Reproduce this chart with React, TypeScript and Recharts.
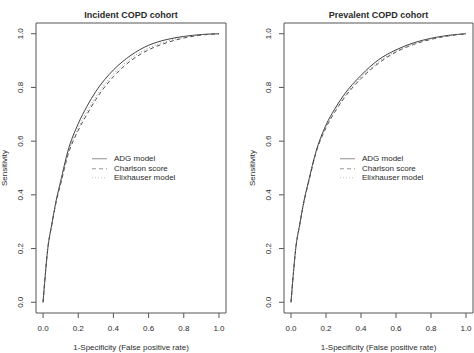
import React from 'react'
import { LineChart, Line, XAxis, YAxis, ReferenceArea, Legend } from 'recharts'

// false positive rate grid shared by every curve
const fprPoints = [0, 0.01, 0.027, 0.05, 0.075, 0.1, 0.14, 0.2, 0.25, 0.3, 0.4, 0.5, 0.6, 0.7, 0.8, 0.9, 1]

// Incident COPD cohort (sensitivity)
const incidentAdg = [0, 0.08, 0.2, 0.29, 0.38, 0.45, 0.56, 0.665, 0.73, 0.785, 0.865, 0.92, 0.957, 0.978, 0.99, 0.997, 1]
const incidentCharlson = [0, 0.08, 0.2, 0.29, 0.375, 0.44, 0.545, 0.64, 0.7, 0.755, 0.84, 0.9, 0.94, 0.966, 0.984, 0.995, 1]
const incidentElix = [0, 0.08, 0.2, 0.29, 0.377, 0.443, 0.55, 0.65, 0.712, 0.765, 0.85, 0.908, 0.947, 0.971, 0.987, 0.996, 1]

// Prevalent COPD cohort (sensitivity)
const prevalentAdg = [0, 0.08, 0.2, 0.29, 0.38, 0.45, 0.555, 0.66, 0.72, 0.77, 0.845, 0.903, 0.94, 0.966, 0.983, 0.994, 1]
const prevalentCharlson = [0, 0.08, 0.2, 0.29, 0.377, 0.445, 0.55, 0.65, 0.708, 0.757, 0.833, 0.89, 0.932, 0.96, 0.979, 0.992, 1]
const prevalentElix = [0, 0.08, 0.2, 0.29, 0.378, 0.447, 0.552, 0.655, 0.713, 0.762, 0.838, 0.895, 0.935, 0.962, 0.981, 0.993, 1]

const axisTicks = [0, 0.2, 0.4, 0.6, 0.8, 1]
const seriesNames = ['ADG model', 'Charlson score', 'Elixhauser model']

const FONT = '"Liberation Sans", Arial, Helvetica, sans-serif'
const TEXT = '#2b2b2b'
const FRAME = '#555'

const seriesStyle = [
  { key: 'adg', stroke: '#2a2a2a', dash: undefined },
  { key: 'charlson', stroke: '#3a3a3a', dash: '4 3' },
  { key: 'elix', stroke: '#8a8a8a', dash: '1 2' },
]

function buildRows(a: number[], c: number[], e: number[]) {
  return fprPoints.map((fpr, i) => ({ fpr, adg: a[i], charlson: c[i], elix: e[i] }))
}

const incidentRows = buildRows(incidentAdg, incidentCharlson, incidentElix)
const prevalentRows = buildRows(prevalentAdg, prevalentCharlson, prevalentElix)

const YTick = (props: any) => {
  const { x, y, payload } = props
  const tx = x - 7.6
  return (
    <text
      x={tx}
      y={y}
      transform={`rotate(-90 ${tx} ${y})`}
      textAnchor="middle"
      fontSize={8}
      fontFamily={FONT}
      fill={TEXT}
    >
      {Number(payload.value).toFixed(1)}
    </text>
  )
}

const LegendBox = (props: any) => {
  const items = props.payload || []
  return (
    <div style={{ fontFamily: FONT, fontSize: 8, color: TEXT }}>
      {items.map((it: any, i: number) => (
        <div key={i} style={{ display: 'flex', alignItems: 'center', height: 9.5 }}>
          <svg width={22} height={9.5}>
            <line
              x1={0}
              x2={15}
              y1={4.75}
              y2={4.75}
              stroke={it.color}
              strokeOpacity={0.65}
              strokeWidth={0.8}
              strokeDasharray={it.payload?.strokeDasharray}
            />
          </svg>
          <span style={{ lineHeight: '9.5px' }}>{it.value}</span>
        </div>
      ))}
    </div>
  )
}

type PanelProps = {
  title: string
  rows: any[]
  left: number
  axisWidth: number
  marginRight: number
}

function Panel({ title, rows, left, axisWidth, marginRight }: PanelProps) {
  const W = 237
  const H = 353
  const top = 23
  const bottom = 40
  const boxLeft = axisWidth
  const boxWidth = W - axisWidth - marginRight
  return (
    <div style={{ position: 'absolute', left, top: 0, width: W, height: H }}>
      <LineChart
        width={W}
        height={H}
        data={rows}
        margin={{ top, right: marginRight, bottom: 0, left: 0 }}
      >
        <XAxis
          dataKey="fpr"
          type="number"
          domain={[-0.04, 1.04]}
          ticks={axisTicks}
          interval={0}
          tickFormatter={(v: number) => v.toFixed(1)}
          axisLine={false}
          tickLine={{ stroke: FRAME }}
          tickSize={5}
          tickMargin={7}
          height={bottom}
          tick={{ fontSize: 8, fontFamily: FONT, fill: TEXT }}
          allowDataOverflow
        />
        <YAxis
          type="number"
          domain={[-0.04, 1.04]}
          ticks={axisTicks}
          interval={0}
          axisLine={false}
          tickLine={{ stroke: FRAME }}
          tickSize={5}
          tickMargin={0}
          width={axisWidth}
          tick={<YTick />}
          allowDataOverflow
        />
        <ReferenceArea
          x1={-0.04}
          x2={1.04}
          y1={-0.04}
          y2={1.04}
          fill="none"
          stroke={FRAME}
          strokeWidth={1}
          ifOverflow="visible"
        />
        {seriesStyle.map((s, i) => (
          <Line
            key={s.key}
            dataKey={s.key}
            name={seriesNames[i]}
            type="monotoneX"
            stroke={s.stroke}
            strokeWidth={0.9}
            strokeDasharray={s.dash}
            dot={false}
            activeDot={false}
            isAnimationActive={false}
          />
        ))}
        <Legend
          layout="vertical"
          align="center"
          verticalAlign="middle"
          content={<LegendBox />}
          wrapperStyle={{ left: boxLeft + 56, top: 154, width: 110, height: 30 }}
        />
      </LineChart>
      <div
        style={{
          position: 'absolute',
          left: boxLeft,
          width: boxWidth,
          top: 10,
          height: 10,
          lineHeight: '10px',
          textAlign: 'center',
          fontFamily: FONT,
          fontWeight: 'bold',
          fontSize: 9,
          color: TEXT,
        }}
      >
        {title}
      </div>
      <div
        style={{
          position: 'absolute',
          left: boxLeft,
          width: boxWidth,
          top: 343,
          height: 10,
          lineHeight: '10px',
          textAlign: 'center',
          fontFamily: FONT,
          fontSize: 8,
          color: TEXT,
        }}
      >
        1-Specificity (False positive rate)
      </div>
      <div
        style={{
          position: 'absolute',
          left: boxLeft - 31 - 50,
          width: 100,
          top: 163,
          height: 10,
          lineHeight: '10px',
          textAlign: 'center',
          fontFamily: FONT,
          fontSize: 8,
          color: TEXT,
          transform: 'rotate(-90deg)',
        }}
      >
        Sensitivity
      </div>
    </div>
  )
}

export default function App() {
  return (
    <div style={{ position: 'absolute', left: 0, top: 0, width: 474, height: 353, background: '#fff' }}>
      <Panel title="Incident COPD cohort" rows={incidentRows} left={0} axisWidth={36} marginRight={11} />
      <Panel title="Prevalent COPD cohort" rows={prevalentRows} left={237} axisWidth={47} marginRight={1} />
    </div>
  )
}
